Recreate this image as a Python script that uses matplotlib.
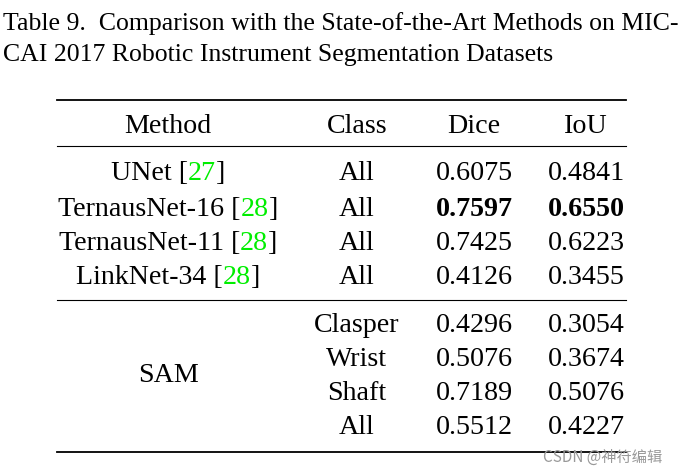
import matplotlib.pyplot as plt

W, H = 679, 474
methods = [["UNet [", "27", "]"], ["TernausNet-16 [", "28", "]"],
           ["TernausNet-11 [", "28", "]"], ["LinkNet-34 [", "28", "]"]]
classes_top = ["All", "All", "All", "All"]
dice_top = ["0.6075", "0.7597", "0.7425", "0.4126"]
iou_top = ["0.4841", "0.6550", "0.6223", "0.3455"]
bold_row = 1
sam_classes = ["Clasper", "Wrist", "Shaft", "All"]
sam_dice = ["0.4296", "0.5076", "0.7189", "0.5512"]
sam_iou = ["0.3054", "0.3674", "0.5076", "0.4227"]

plt.rcParams['font.family'] = ['Liberation Serif', 'DejaVu Serif']
fig = plt.figure(figsize=(W / 100, H / 100), dpi=100)
ax = fig.add_axes([0, 0, 1, 1])
ax.set_xlim(0, W)
ax.set_ylim(H, 0)
ax.axis('off')

fs = 20.2
ax.text(3, 24, "Table 9.  Comparison with the State-of-the-Art Methods on MIC-",
        fontsize=18.5, va='center', ha='left')
ax.text(3, 55, "CAI 2017 Robotic Instrument Segmentation Datasets",
        fontsize=18.5, va='center', ha='left')

x0, x1 = 57, 626
ax.plot([x0, x1], [100, 100], color='black', lw=1.3)
ax.plot([x0, x1], [146, 146], color='black', lw=0.8)
ax.plot([x0, x1], [300, 300], color='black', lw=0.8)
ax.plot([x0, x1], [452, 452], color='black', lw=1.3)

dy = 2
cx = [168, 357, 474, 586]
for x, h in zip(cx, ["Method", "Class", "Dice", "IoU"]):
    ax.text(x, 124 + dy, h, fontsize=fs, ha='center', va='center')

fig.canvas.draw()
r = fig.canvas.get_renderer()


def width(s):
    t = ax.text(0, 0, s, fontsize=fs)
    w = t.get_window_extent(r).width
    t.remove()
    return w


top_y = [172, 207, 241, 275]
for i, y in enumerate(top_y):
    y += dy
    parts = methods[i]
    total = sum(width(p) for p in parts)
    x = cx[0] - total / 2
    for p, c in zip(parts, ['black', '#00ee00', 'black']):
        ax.text(x, y, p, fontsize=fs, color=c, ha='left', va='center')
        x += width(p)
    wt = 'bold' if i == bold_row else 'normal'
    ax.text(cx[1], y, classes_top[i], fontsize=fs, ha='center', va='center')
    ax.text(cx[2], y, dice_top[i], fontsize=fs, ha='center', va='center', fontweight=wt)
    ax.text(cx[3], y, iou_top[i], fontsize=fs, ha='center', va='center', fontweight=wt)

sam_y = [323, 357, 392, 426]
ax.text(cx[0], 374 + dy, "SAM", fontsize=fs, ha='center', va='center')
for i, y in enumerate(sam_y):
    y += dy
    ax.text(cx[1], y, sam_classes[i], fontsize=fs, ha='center', va='center')
    ax.text(cx[2], y, sam_dice[i], fontsize=fs, ha='center', va='center')
    ax.text(cx[3], y, sam_iou[i], fontsize=fs, ha='center', va='center')

ax.text(662, 457, "CSDN @神符编辑", fontsize=11, color='#999999', ha='right', va='center',
        family=['Noto Sans CJK SC', 'DejaVu Sans'])

fig.savefig("out.png", dpi=100)
